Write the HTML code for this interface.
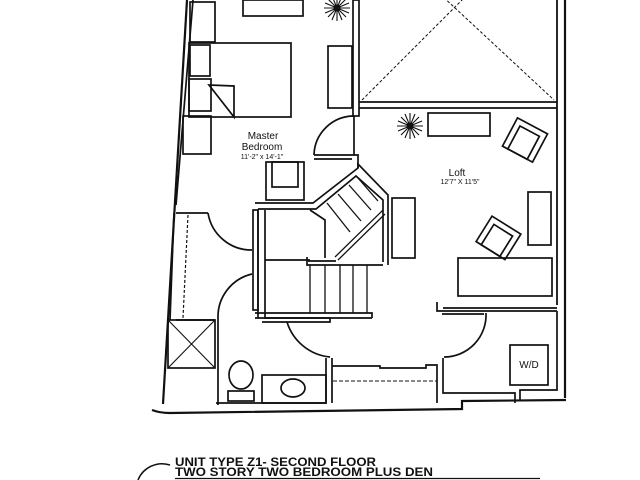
<!DOCTYPE html>
<html><head><meta charset="utf-8"><style>
html,body{margin:0;padding:0;background:#fff;}
svg{display:block;}
text{font-family:"Liberation Sans",Arial,sans-serif;fill:#111;}
</style></head><body>
<svg width="640" height="480" viewBox="0 0 640 480" xmlns="http://www.w3.org/2000/svg">
<g fill="none" stroke="#111" stroke-width="1.7" stroke-linejoin="miter">
<!-- outer left wall -->
<path d="M187 0 L163 404" stroke-width="2.2"/>
<path d="M193 0 L176 205"/>
<path d="M174 213 L170 320"/>
<!-- bottom outer wall -->
<path d="M152 410 Q160 413 170 413 L462 409 L462 401 L566 400" stroke-width="2.2"/>
<!-- right wall -->
<path d="M557 0 L557 305" stroke-width="1.8"/>
<path d="M565 0 L565 398" stroke-width="2.2"/>
<!-- middle vertical wall -->
<rect x="353" y="0" width="6" height="116"/>
<!-- loft horizontal wall -->
<path d="M359 102 L557 102 M359 108 L557 108"/>
<!-- dashed X open-to-below -->
<path d="M362 100 L470 -8 M440 -6 L554 100" stroke-dasharray="3,2" stroke-width="1"/>
<!-- master bedroom furniture -->
<rect x="243" y="0" width="60" height="16"/>
<rect x="190" y="2" width="25" height="40"/>
<rect x="189" y="43" width="102" height="74"/>
<rect x="190" y="45" width="20" height="31"/>
<rect x="189" y="79" width="22" height="32"/>
<path d="M209 85 L234 86 L234 117 Z"/>
<rect x="183" y="116" width="28" height="38"/>
<rect x="328" y="46" width="24" height="62"/>
<rect x="266" y="162" width="38" height="38"/>
<rect x="272" y="162" width="26" height="25"/>
<!-- bedroom door -->
<path d="M354 116 L354 155 M314 155 A40 40 0 0 1 354 116"/>
<path d="M314 155 L358 155 L358 168"/>
<path d="M314 159 L352 159"/>
<!-- stair enclosure -->
<path d="M255 203 L313 203 L358 168 L358 164 L388 195 L388 265"/>
<path d="M258 209 L316 209 L356 176 L383 200 L383 262"/>
<path d="M265 210 L265 318 L372 318"/>
<path d="M258 209 L258 318"/>
<path d="M310 210 L325 220 L325 258 M265 260 L310 260"/>
<path d="M327 203 L350 232 M338 194 L361 221 M349 185 L371 210 M358 178 L378 201" stroke-width="1.3"/>
<path d="M335 257 L383 210 M338 260 L385 214" stroke-width="1.3"/>
<path d="M307 257 L307 265 L383 265 M308 261 L336 261"/>
<path d="M310 265 L310 313 M325 265 L325 313 M340 265 L340 313 M353 265 L353 313 M367 265 L367 313" stroke-width="1.3"/>
<path d="M255 313 L372 313 L372 318"/>
<path d="M255 318 L330 318 L330 322 L262 322"/>
<!-- hall closet with sliding -->
<rect x="253" y="210" width="5" height="100"/>
<path d="M176 213 L208 213" />
<path d="M188 215 L183 318" stroke-dasharray="3,2" stroke-width="1.2"/>
<path d="M176 320 L215 320"/>
<!-- hall doors -->
<path d="M208 213 A44 44 0 0 0 252 250"/>
<path d="M252 274 A44 44 0 0 0 218 318 L218 405"/>
<!-- left linen X closet -->
<rect x="168" y="320" width="47" height="48"/>
<path d="M168 320 L215 368 M215 320 L168 368" stroke-width="1.1"/>
<!-- bathroom -->
<path d="M216 403 L326 403 L326 358 M332 358 L332 403"/>
<ellipse cx="241" cy="375" rx="12" ry="14"/>
<rect x="228" y="391" width="26" height="10"/>
<rect x="262" y="375" width="64" height="28"/>
<ellipse cx="293" cy="388" rx="12" ry="9"/>
<!-- hall bottom door arc -->
<path d="M287 322 A50 50 0 0 0 330 357"/>
<!-- lower middle closet -->
<path d="M332 366 L380 366 L380 368 L426 368 L426 365 L437 365 L437 403"/>
<path d="M333 381 L437 381" stroke-dasharray="4,2" stroke-width="1.1"/>
<!-- laundry -->
<path d="M437 302 L437 311 L557 311 M443 308 L557 308 M442 314 L484 314"/>
<path d="M444 357 A42 42 0 0 0 486 313"/>
<path d="M443 358 L443 393 L515 393 L515 403"/>
<path d="M557 311 L557 390 L520 390 L520 400"/>
<rect x="510" y="345" width="38" height="40"/>
<!-- loft furniture -->
<rect x="428" y="113" width="62" height="23"/>
<g transform="translate(525,140) rotate(28)">
<rect x="-17" y="-16" width="34" height="32"/>
<rect x="-11" y="-10" width="22" height="26"/>
</g>
<rect x="528" y="192" width="23" height="53"/>
<rect x="392" y="198" width="23" height="60"/>
<g transform="translate(499,237) rotate(32)">
<rect x="-17" y="-14" width="34" height="30"/>
<rect x="-11" y="-8" width="22" height="24"/>
</g>
<rect x="458" y="258" width="94" height="38"/>
</g>
<!-- plants -->
<g stroke="#111" stroke-width="1.1" fill="none">
<g transform="translate(337,8)">
<circle r="3"/>
<path d="M0-13V13M-13 0H13M-9-9L9 9M9-9L-9 9M-5-12L5 12M5-12L-5 12M-12-5L12 5M12-5L-12 5"/>
</g>
<g transform="translate(410,126)">
<circle r="3"/>
<path d="M0-13V13M-13 0H13M-9-9L9 9M9-9L-9 9M-5-12L5 12M5-12L-5 12M-12-5L12 5M12-5L-12 5"/>
</g>
</g>
<!-- labels -->
<text x="263" y="139" font-size="10" text-anchor="middle">Master</text>
<text x="262" y="150" font-size="10" text-anchor="middle">Bedroom</text>
<text x="262" y="159" font-size="7" text-anchor="middle">11'-2" x 14'-1"</text>
<text x="457" y="176" font-size="10" text-anchor="middle">Loft</text>
<text x="460" y="184" font-size="7" text-anchor="middle">12'7" X 11'5"</text>
<text x="529" y="368" font-size="10" text-anchor="middle">W/D</text>
<!-- title -->
<text x="175" y="466" font-size="12" font-weight="bold" textLength="201" lengthAdjust="spacingAndGlyphs">UNIT TYPE Z1- SECOND FLOOR</text>
<text x="175" y="476" font-size="12" font-weight="bold" textLength="258" lengthAdjust="spacingAndGlyphs">TWO STORY TWO BEDROOM PLUS DEN</text>
<path d="M175 478.5 L540 478.5" stroke="#111" stroke-width="1.3"/>
<path d="M138 480 A26 26 0 0 1 170 465" fill="none" stroke="#111" stroke-width="1.5"/>
</svg>
</body></html>
